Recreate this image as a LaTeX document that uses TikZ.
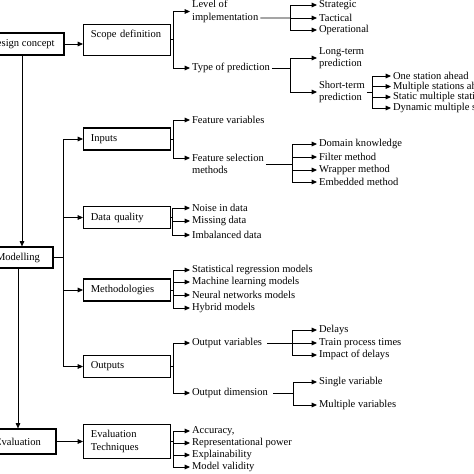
\documentclass[tikz,border=0pt]{standalone}
\usepackage{fontspec}
\setmainfont{Liberation Serif}
\usetikzlibrary{arrows.meta, positioning, calc}

\begin{document}
\begin{tikzpicture}[
    x=0.02cm, y=-0.02cm,
    font=\fontsize{6}{7.2}\selectfont,
    mainbox/.style={draw, line width=0.7pt, minimum width=#1, minimum height=0.44cm, align=center, inner sep=2pt},
    subbox/.style={draw, line width=0.7pt, text width=1.45cm, inner xsep=0.145cm, minimum height=0.44cm, align=left},
    leaf/.style={anchor=west, inner xsep=1pt, inner ysep=1pt, align=left},
    link/.style={line width=0.5pt},
    arrow/.style={-{Triangle[length=3pt, width=2.6pt]}, line width=0.5pt}
]
\useasboundingbox (0,0) rectangle (474,474);
\clip (0,0) rectangle (474,474);

\node[mainbox=1.68cm] (design) at (22,44) {Design concept};
\node[mainbox=1.40cm, minimum height=0.42cm] (modelling) at (18,257.5) {Modelling};
\node[mainbox=1.52cm, minimum height=0.5cm] (evaluation) at (18,441.5) {Evaluation};

\node[subbox, text depth=6.5pt, anchor=north west] (scope) at (83,24) {Scope definition};
\node[subbox, anchor=west] (inputs) at (83,139) {Inputs};
\node[subbox, anchor=west] (quality) at (83,217.5) {Data quality};
\node[subbox, anchor=west] (methods) at (83,290) {Methodologies};
\node[subbox, anchor=west] (outputs) at (83,366.5) {Outputs};
\node[subbox, anchor=west, minimum height=0.58cm] (techniques) at (83,441.5) {Evaluation\\Techniques};

\draw[arrow] (design.east) -- (design.east -| scope.west);
\draw[arrow] (design.south) -- (design.south |- modelling.north);
\draw[arrow] (modelling) -- (evaluation);
\draw[arrow] (evaluation) -- (techniques);

\coordinate (mspine) at (63,0);
\draw[link] (modelling.east) -- (modelling.east -| mspine);
\draw[link] (mspine |- inputs.west) -- (mspine |- outputs.west);
\draw[arrow] (mspine |- inputs.west) -- (inputs.west);
\draw[arrow] (mspine |- quality.west) -- (quality.west);
\draw[arrow] (mspine |- methods.west) -- (methods.west);
\draw[arrow] (mspine |- outputs.west) -- (outputs.west);

\node[leaf] (level) at (190,11.5) {Level of\\implementation};
\node[leaf] (predtype) at (190,68) {Type of prediction};
\coordinate (sspine) at (173,0);
\draw[link] (scope.east) -- (sspine |- scope.east);
\draw[link] (sspine |- level.west) -- (sspine |- predtype.west);
\draw[arrow] (sspine |- level.west) -- (level.west);
\draw[arrow] (sspine |- predtype.west) -- (predtype.west);

\node[leaf] (strategic) at (317,5) {Strategic};
\node[leaf] (tactical) at (317,18) {Tactical};
\node[leaf] (operational) at (317,30) {Operational};
\coordinate (lspine) at (290,0);
\draw[link] ($(level.east)+(0,6.5)$) -- (lspine |- tactical.west);
\draw[link] (lspine |- strategic.west) -- (lspine |- operational.west);
\draw[arrow] (lspine |- strategic.west) -- (strategic.west);
\draw[arrow] (lspine |- tactical.west) -- (tactical.west);
\draw[arrow] (lspine |- operational.west) -- (operational.west);

\node[leaf] (longterm) at (317,58) {Long-term\\prediction};
\node[leaf] (shortterm) at (317,92) {Short-term\\prediction};
\coordinate (pspine) at (290,0);
\draw[link] (predtype.east) -- (pspine |- predtype.east);
\draw[link] (pspine |- longterm.west) -- (pspine |- shortterm.west);
\draw[arrow] (pspine |- longterm.west) -- (longterm.west);
\draw[arrow] (pspine |- shortterm.west) -- (shortterm.west);

\node[leaf] (aheadone) at (391,76) {One station ahead};
\node[leaf] (aheadmany) at (391,86.5) {Multiple stations ahead};
\node[leaf] (staticmany) at (391,97) {Static multiple stations};
\node[leaf] (dynamicmany) at (391,108) {Dynamic multiple stations};
\coordinate (tspine) at (372,0);
\draw[link] (shortterm.east) -- (tspine |- shortterm.east);
\draw[link] (tspine |- aheadone.west) -- (tspine |- dynamicmany.west);
\draw[arrow] (tspine |- aheadone.west) -- (aheadone.west);
\draw[arrow] (tspine |- aheadmany.west) -- (aheadmany.west);
\draw[arrow] (tspine |- staticmany.west) -- (staticmany.west);
\draw[arrow] (tspine |- dynamicmany.west) -- (dynamicmany.west);

\node[leaf] (featvar) at (190,120) {Feature variables};
\node[leaf] (featsel) at (190,164) {Feature selection\\methods};
\coordinate (ispine) at (173,0);
\draw[link] (inputs.east) -- (ispine |- inputs.east);
\draw[link] (ispine |- featvar.west) -- ($(ispine |- featsel.west)+(0,-6)$);
\draw[arrow] (ispine |- featvar.west) -- (featvar.west);
\draw[arrow] ($(ispine |- featsel.west)+(0,-6)$) -- ($(featsel.west)+(0,-6)$);

\node[leaf] (domain) at (317,144) {Domain knowledge};
\node[leaf] (filter) at (317,157) {Filter method};
\node[leaf] (wrapper) at (317,170) {Wrapper method};
\node[leaf] (embedded) at (317,182) {Embedded method};
\coordinate (fspine) at (292,0);
\draw[link] (featsel.east) -- (fspine |- featsel.east);
\draw[link] (fspine |- domain.west) -- (fspine |- embedded.west);
\draw[arrow] (fspine |- domain.west) -- (domain.west);
\draw[arrow] (fspine |- filter.west) -- (filter.west);
\draw[arrow] (fspine |- wrapper.west) -- (wrapper.west);
\draw[arrow] (fspine |- embedded.west) -- (embedded.west);

\node[leaf] (noise) at (190,208) {Noise in data};
\node[leaf] (missing) at (190,221) {Missing data};
\node[leaf] (imbalanced) at (190,235) {Imbalanced data};
\coordinate (qspine) at (172,0);
\draw[link] (quality.east) -- (qspine |- quality.east);
\draw[link] (qspine |- noise.west) -- (qspine |- imbalanced.west);
\draw[arrow] (qspine |- noise.west) -- (noise.west);
\draw[arrow] (qspine |- missing.west) -- (missing.west);
\draw[arrow] (qspine |- imbalanced.west) -- (imbalanced.west);

\node[leaf] (statistical) at (190,270) {Statistical regression models};
\node[leaf] (machine) at (190,282) {Machine learning models};
\node[leaf] (neural) at (190,295) {Neural networks models};
\node[leaf] (hybrid) at (190,308) {Hybrid models};
\coordinate (hspine) at (173,0);
\draw[link] (methods.east) -- (hspine |- methods.east);
\draw[link] (hspine |- statistical.west) -- (hspine |- hybrid.west);
\draw[arrow] (hspine |- statistical.west) -- (statistical.west);
\draw[arrow] (hspine |- machine.west) -- (machine.west);
\draw[arrow] (hspine |- neural.west) -- (neural.west);
\draw[arrow] (hspine |- hybrid.west) -- (hybrid.west);

\node[leaf] (outvar) at (190,343) {Output variables};
\node[leaf] (outdim) at (190,393) {Output dimension};
\coordinate (ospine) at (173,0);
\draw[link] (outputs.east) -- (ospine |- outputs.east);
\draw[link] (ospine |- outvar.west) -- (ospine |- outdim.west);
\draw[arrow] (ospine |- outvar.west) -- (outvar.west);
\draw[arrow] (ospine |- outdim.west) -- (outdim.west);

\node[leaf] (delays) at (317,330) {Delays};
\node[leaf] (trainproc) at (317,343) {Train process times};
\node[leaf] (impact) at (317,355) {Impact of delays};
\coordinate (vspine) at (292,0);
\draw[link] ($(outvar.east)+(3,0)$) -- (vspine |- outvar.east);
\draw[link] (vspine |- delays.west) -- (vspine |- impact.west);
\draw[arrow] (vspine |- delays.west) -- (delays.west);
\draw[arrow] (vspine |- trainproc.west) -- (trainproc.west);
\draw[arrow] (vspine |- impact.west) -- (impact.west);

\node[leaf] (single) at (317,382) {Single variable};
\node[leaf] (multiple) at (317,405) {Multiple variables};
\coordinate (dspine) at (293,0);
\draw[link] ($(outdim.east)+(3,0)$) -- (dspine |- outdim.east);
\draw[link] (dspine |- single.west) -- (dspine |- multiple.west);
\draw[arrow] (dspine |- single.west) -- (single.west);
\draw[arrow] (dspine |- multiple.west) -- (multiple.west);

\node[leaf] (accuracy) at (190,431) {Accuracy,};
\node[leaf] (represent) at (190,443) {Representational power};
\node[leaf] (explain) at (190,455) {Explainability};
\node[leaf] (validity) at (190,467) {Model validity};
\coordinate (espine) at (173,0);
\draw[link] (techniques.east) -- (espine |- techniques.east);
\draw[link] (espine |- accuracy.west) -- (espine |- validity.west);
\draw[arrow] (espine |- accuracy.west) -- (accuracy.west);
\draw[arrow] (espine |- represent.west) -- (represent.west);
\draw[arrow] (espine |- explain.west) -- (explain.west);
\draw[arrow] (espine |- validity.west) -- (validity.west);

\end{tikzpicture}
\end{document}
